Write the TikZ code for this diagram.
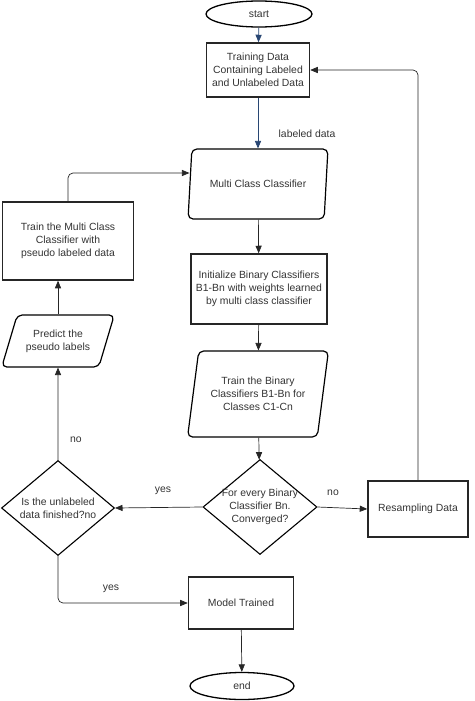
\documentclass[tikz,border=0pt]{standalone}
\usepackage{fontspec}
\setmainfont{Liberation Sans}
\usetikzlibrary{arrows,shapes.geometric}
\definecolor{linkblue}{RGB}{40,70,115}

\begin{document}
\begin{tikzpicture}[x=1pt,y=-1pt,>=triangle 45]
	\tikzstyle{every node} = [font=\fontsize{10.4}{12.8}\selectfont,text=black!80,align=center];
	\tikzstyle{box} = [rectangle,draw=black!85,line width=1.6pt,inner sep=2pt];
	\tikzstyle{io} = [trapezium,trapezium left angle=76,trapezium right angle=104,trapezium stretches=true,draw=black,line width=1.2pt,rounded corners=5pt,inner sep=2pt];
	\tikzstyle{decision} = [diamond,draw=black,line width=1.1pt,inner sep=0pt];
	\tikzstyle{terminal} = [ellipse,draw=black,line width=1.3pt];
	\tikzstyle{link} = [->,draw=black!85,line width=0.7pt];
	\useasboundingbox (0,0) rectangle (474,701);
	\node[terminal,minimum width=106pt,minimum height=26pt] (start) at (259,14) {start};
	\node[box,minimum width=103pt,minimum height=54pt] (train) at (258,70) {Training Data\\Containing Labeled\\and Unlabeled Data};
	\node[io,minimum width=140pt,minimum height=70pt] (multi) at (258,184) {Multi Class Classifier};
	\node[box,minimum width=136pt,minimum height=70pt] (init) at (259,289) {Initialize Binary Classifiers\\B1-Bn with weights learned\\by multi class classifier};
	\node[io,minimum width=141pt,minimum height=86pt] (binary) at (258,394) {Train the Binary\\Classifiers B1-Bn for\\Classes C1-Cn};
	\node[decision,inner sep=-7pt,minimum width=114pt,minimum height=95pt] (conv) at (260,507) {For every Binary\\Classifier Bn.\\Converged?};
	\node[box,minimum width=100pt,minimum height=56pt] (resamp) at (418,509) {Resampling Data};
	\node[decision,inner sep=-2pt,minimum width=113pt,minimum height=95pt] (fin) at (58,508) {Is the unlabeled\\data finished?no};
	\node[io,trapezium left angle=64,trapezium right angle=116,minimum width=113pt,minimum height=52pt] (predict) at (58,341) {Predict the\\pseudo labels};
	\node[box,minimum width=131pt,minimum height=78pt] (trainmc) at (68,241) {Train the Multi Class\\Classifier with\\pseudo labeled data};
	\node[box,minimum width=105pt,minimum height=52pt] (model) at (241,603) {Model Trained};
	\node[terminal,minimum width=104pt,minimum height=27pt] (end) at (242,686) {end};
	% labels on connectors
	\node (lbldata) at (307,134) {labeled data};
	\node (lblno1) at (333,493) {no};
	\node (lblyes1) at (163,491) {yes};
	\node (lblno2) at (76,440) {no};
	\node (lblyes2) at (111,589) {yes};
	% connectors
	\draw[link,draw=linkblue] (start) -- (train);
	\draw[link,draw=linkblue] (train) -- (multi);
	\draw[link] (multi) -- (init);
	\draw[link] (init) -- (binary);
	\draw[link] (binary) -- (conv);
	\draw[link] (conv.east) -- (resamp.west);
	\draw[link,rounded corners=5pt] (resamp.north) |- (train.east);
	\draw[link] (conv.west) -- (fin.east);
	\draw[link] (fin.north) -- (predict.south);
	\draw[link] (predict.north) -- (predict.north |- trainmc.south);
	\draw[link,rounded corners=5pt] (trainmc.north) |- ([yshift=11pt]multi.west);
	\draw[link,rounded corners=5pt] (fin.south) |- (model.west);
	\draw[link] (model) -- (end);
\end{tikzpicture}
\end{document}
